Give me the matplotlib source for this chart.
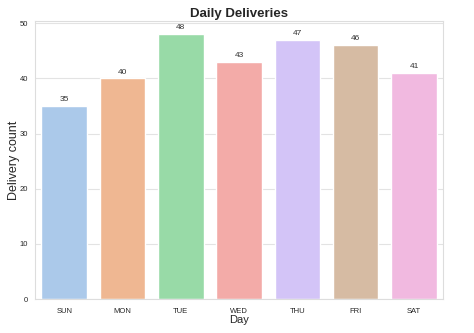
import matplotlib
matplotlib.use("Agg")
import matplotlib.pyplot as plt
import seaborn as sns

days = ["SUN", "MON", "TUE", "WED", "THU", "FRI", "SAT"]
deliveries = [35, 40, 48, 43, 47, 46, 41]

sns.set_style("whitegrid")
plt.rcParams['font.family'] = ['Liberation Sans', 'DejaVu Sans']

fig, ax = plt.subplots(figsize=(4.74, 3.33), dpi=100)
# seaborn barplot look: pastel palette, desaturated to 0.75
colors = [sns.desaturate(c, 0.75) for c in sns.color_palette("pastel", len(days))]
bars = ax.bar(days, deliveries, color=colors, width=0.78)

# value labels above bars
for b, v in zip(bars, deliveries):
    ax.annotate(str(v), (b.get_x() + b.get_width() / 2, v), xytext=(0, 2),
                textcoords="offset points", ha="center", va="bottom", fontsize=6, color="#333333")

ax.set_xlim(-0.5, len(days) - 0.5)
ax.set_title("Daily Deliveries", fontsize=9.5, fontweight="bold", pad=3)
ax.set_xlabel("Day", fontsize=8, labelpad=0)
ax.set_ylabel("Delivery count", fontsize=9, labelpad=0)
ax.tick_params(axis="both", labelsize=5.5, pad=3)
ax.tick_params(axis="y", length=2, color="#dddddd")
ax.grid(axis="x", visible=False)
ax.grid(axis="y", color="#e3e3e3", linewidth=0.8)
for s in ax.spines.values():
    s.set_color("#dddddd")

fig.subplots_adjust(left=0.074, right=0.935, top=0.937, bottom=0.102)
fig.savefig("out.png", dpi=100)
